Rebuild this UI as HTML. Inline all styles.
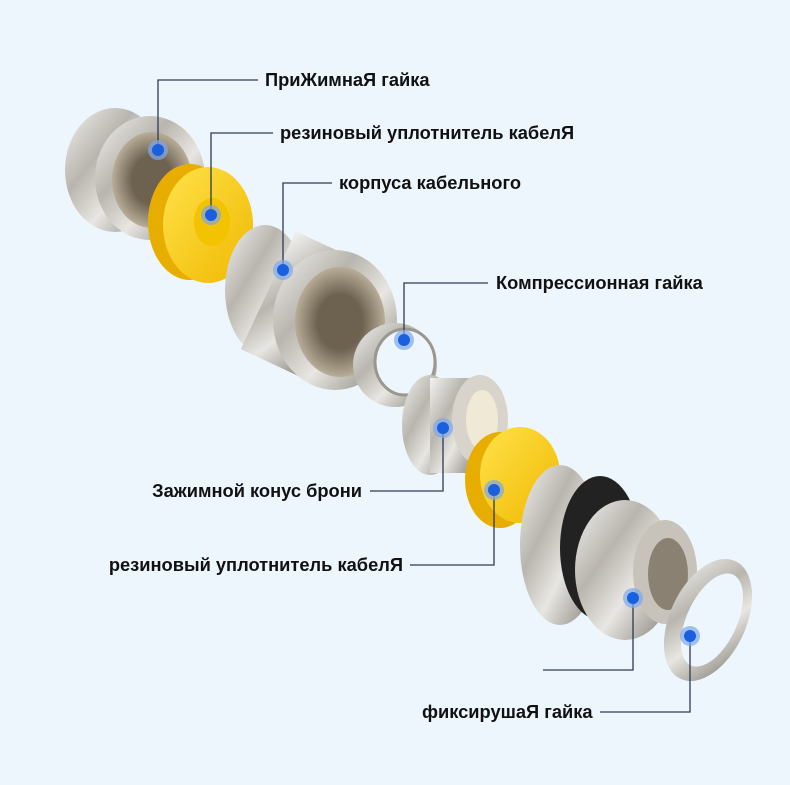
<!DOCTYPE html>
<html><head><meta charset="utf-8"><style>
html,body{margin:0;padding:0}
body{width:790px;height:785px;background:#eef6fd;overflow:hidden;position:relative;font-family:"Liberation Sans",sans-serif}
.t{position:absolute;font-weight:bold;font-size:18.3px;color:#111;white-space:nowrap;line-height:22px}
</style></head><body>
<svg width="790" height="785" style="position:absolute;left:0;top:0">
<defs>
<linearGradient id="m" x1="0" y1="0" x2="1" y2="1">
<stop offset="0" stop-color="#f2f2f0"/><stop offset="0.35" stop-color="#b9b5ae"/><stop offset="0.6" stop-color="#e8e6e2"/><stop offset="1" stop-color="#7d786f"/></linearGradient>
<radialGradient id="in" cx="0.5" cy="0.5" r="0.5"><stop offset="0.5" stop-color="#6d6250"/><stop offset="1" stop-color="#b8ad98"/></radialGradient>
<linearGradient id="y" x1="0" y1="0" x2="1" y2="1"><stop offset="0" stop-color="#ffe24a"/><stop offset="1" stop-color="#f0b800"/></linearGradient>
</defs>
<ellipse cx="115" cy="170" rx="50" ry="62" fill="url(#m)"/>
<ellipse cx="150" cy="178" rx="55" ry="62" fill="url(#m)"/>
<ellipse cx="152" cy="180" rx="40" ry="48" fill="url(#in)"/>
<ellipse cx="190" cy="222" rx="42" ry="58" fill="#e7ad00"/>
<ellipse cx="208" cy="225" rx="45" ry="58" fill="url(#y)"/>
<ellipse cx="212" cy="222" rx="18" ry="24" fill="#f3c200"/>
<ellipse cx="265" cy="290" rx="40" ry="65" fill="url(#m)"/>
<rect x="265" y="240" width="75" height="130" fill="url(#m)" transform="rotate(25 300 305)"/>
<ellipse cx="335" cy="320" rx="62" ry="70" fill="url(#m)"/>
<ellipse cx="340" cy="322" rx="45" ry="55" fill="url(#in)"/>
<ellipse cx="395" cy="365" rx="42" ry="42" fill="url(#m)"/>
<ellipse cx="405" cy="362" rx="30" ry="33" fill="#eef6fd"/>
<ellipse cx="405" cy="362" rx="30" ry="33" fill="none" stroke="#9b968e" stroke-width="3"/>
<ellipse cx="430" cy="425" rx="28" ry="50" fill="url(#m)"/>
<rect x="430" y="378" width="50" height="95" fill="url(#m)"/>
<ellipse cx="480" cy="420" rx="28" ry="45" fill="#d8d4cc"/>
<ellipse cx="482" cy="420" rx="16" ry="30" fill="#efe9d6"/>
<ellipse cx="500" cy="480" rx="35" ry="48" fill="#e7ad00"/>
<ellipse cx="520" cy="475" rx="40" ry="48" fill="url(#y)"/>
<ellipse cx="560" cy="545" rx="40" ry="80" fill="url(#m)"/>
<ellipse cx="600" cy="548" rx="40" ry="72" fill="#222"/>
<ellipse cx="625" cy="570" rx="50" ry="70" fill="url(#m)"/>
<ellipse cx="665" cy="572" rx="32" ry="52" fill="#c8c3ba"/>
<ellipse cx="668" cy="574" rx="20" ry="36" fill="#8a8172"/>
<ellipse cx="708" cy="620" rx="38" ry="65" fill="url(#m)" transform="rotate(25 708 620)"/>
<ellipse cx="712" cy="620" rx="25" ry="50" fill="#eef6fd" transform="rotate(25 712 620)"/>
<g stroke="#2d3a52" stroke-width="1.3" fill="none">
<polyline points="258,80 158,80 158,150"/>
<polyline points="273,133 211,133 211,215"/>
<polyline points="332,183 283,183 283,270"/>
<polyline points="488,283 404,283 404,340"/>
<polyline points="370,491 443,491 443,428"/>
<polyline points="410,565 494,565 494,490"/>
<polyline points="543,670 633,670 633,598"/>
<polyline points="600,712 690,712 690,636"/>
</g>
<g fill="#7fa8e8" opacity="0.7">
<circle cx="158" cy="150" r="10"/><circle cx="211" cy="215" r="10"/><circle cx="283" cy="270" r="10"/><circle cx="404" cy="340" r="10"/><circle cx="443" cy="428" r="10"/><circle cx="494" cy="490" r="10"/><circle cx="633" cy="598" r="10"/><circle cx="690" cy="636" r="10"/></g>
<g fill="#1a5fe0">
<circle cx="158" cy="150" r="6"/><circle cx="211" cy="215" r="6"/><circle cx="283" cy="270" r="6"/><circle cx="404" cy="340" r="6"/><circle cx="443" cy="428" r="6"/><circle cx="494" cy="490" r="6"/><circle cx="633" cy="598" r="6"/><circle cx="690" cy="636" r="6"/></g>
</svg>
<div class="t" style="left:265px;top:69px">ПриЖимнаЯ гайка</div>
<div class="t" style="left:280px;top:122px">резиновый уплотнитель кабелЯ</div>
<div class="t" style="left:339px;top:172px">корпуса кабельного</div>
<div class="t" style="left:496px;top:272px">Компрессионная гайка</div>
<div class="t" style="right:428px;top:480px">Зажимной конус брони</div>
<div class="t" style="right:387px;top:554px">резиновый уплотнитель кабелЯ</div>
<div class="t" style="left:422px;top:701px">фиксирушаЯ гайка</div>
</body></html>
